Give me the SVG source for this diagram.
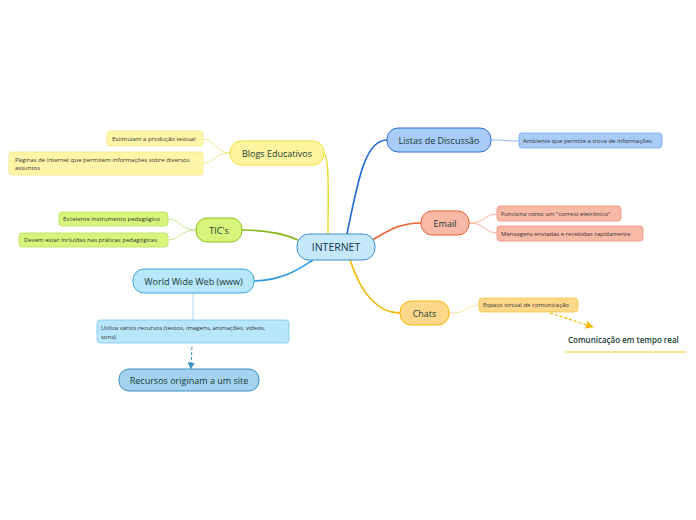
<svg xmlns="http://www.w3.org/2000/svg" width="696" height="520" viewBox="0 0 696 520">
<defs>
<style>
text{font-family:"Open Sans","Noto Sans","DejaVu Sans",sans-serif;fill:#163a33}
.main{font-size:9px;text-anchor:middle}
.root{font-size:10.5px;text-anchor:middle;fill:#10304a}
.sub{font-size:6px;fill:#333}
.conn{fill:none;stroke-width:1.6}
.sc{fill:none;stroke-width:1}
</style>
<marker id="arrY" markerWidth="8" markerHeight="8" refX="4" refY="4" orient="auto" markerUnits="userSpaceOnUse"><path d="M0,0 L8,4 L0,8 Z" fill="#f6b700"/></marker>
<marker id="arrB" markerWidth="7" markerHeight="7" refX="3.5" refY="3.5" orient="auto" markerUnits="userSpaceOnUse"><path d="M0,0 L7,3.5 L0,7 Z" fill="#3a90c0"/></marker>
</defs>
<rect width="696" height="520" fill="#ffffff"/>
<g id="connectors">
<path class="conn" stroke="#1e6ad8" d="M347,234 C358,180 365,140 387,140"/>
<path class="conn" stroke="#e8e040" d="M328,234 C328,200 330,153 323,153"/>
<path class="conn" stroke="#f06030" d="M372,240 C390,230 400,223 421,223"/>
<path class="conn" stroke="#f6b700" d="M350,260 C360,290 375,313 400,313"/>
<path class="conn" stroke="#8ab820" d="M242,230 C270,230 285,234 298,240"/>
<path class="conn" stroke="#2a9ae0" d="M254,281 C285,280 300,268 313,260"/>
<path class="sc" stroke="#8fb8f0" d="M491,140 C505,140 505,141 519,141"/>
<path class="sc" stroke="#f6b09a" d="M469,223 C485,223 485,214 497,214"/>
<path class="sc" stroke="#f6b09a" d="M469,223 C485,223 485,233 497,233"/>
<path class="sc" stroke="#fde3a0" d="M449,313 C470,313 465,305 479,305"/>
<path class="sc" stroke="#f5e88a" d="M230,153 C215,153 215,139 203,139"/>
<path class="sc" stroke="#f5e88a" d="M230,153 C215,153 215,163 203,163"/>
<path class="sc" stroke="#c8e890" d="M196,230 C180,230 180,219 168,219"/>
<path class="sc" stroke="#c8e890" d="M196,230 C180,230 180,240 168,240"/>
<path class="sc" stroke="#a8daf0" d="M193,293 L193,320"/>
<path fill="none" stroke="#3a90c0" stroke-width="1" stroke-dasharray="3,2" d="M192,347 L191,366" marker-end="url(#arrB)"/>
<path fill="none" stroke="#f6b700" stroke-width="1.2" stroke-dasharray="3,2" d="M550,313 L590,326" marker-end="url(#arrY)"/>
</g>
<g id="internet"><rect x="297" y="234" width="78" height="26" rx="12" fill="#c5e8fb" stroke="#3a8fd6" stroke-width="1"/><text class="root" x="336" y="251">INTERNET</text></g>
<g id="listas"><rect x="387" y="128" width="104" height="24" rx="11" fill="#a8cbf7" stroke="#2b6fd6" stroke-width="1"/><text class="main" x="439" y="143.5">Listas de Discussão</text></g>
<g id="ambiente"><rect x="519" y="133" width="143" height="15" rx="3" fill="#a8cbf7" stroke="#7aaaf0" stroke-width="0.8"/><text class="sub" x="523" y="142.5">Ambiente que permite a troca de informações</text></g>
<g id="email"><rect x="421" y="211" width="48" height="24" rx="11" fill="#f8b9a6" stroke="#f06030" stroke-width="1"/><text class="main" x="445" y="226.5">Email</text></g>
<g id="funciona"><rect x="497" y="206" width="124" height="15" rx="3" fill="#f8b9a6" stroke="#f0907a" stroke-width="0.8"/><text class="sub" x="501" y="215.5">Funciona como um "correio eletrônico"</text></g>
<g id="mensagens"><rect x="497" y="226" width="146" height="15" rx="3" fill="#f8b9a6" stroke="#f0907a" stroke-width="0.8"/><text class="sub" x="501" y="235.5">Mensagens enviadas e recebidas rapidamente</text></g>
<g id="chats"><rect x="400" y="301" width="49" height="24" rx="11" fill="#fdd88a" stroke="#f6b700" stroke-width="1"/><text class="main" x="424.5" y="316.5">Chats</text></g>
<g id="espaco"><rect x="479" y="298" width="99" height="14" rx="3" fill="#fdd88a" stroke="#f6c840" stroke-width="0.8"/><text class="sub" x="483" y="307">Espaço virtual de comunicação</text></g>
<g id="tempo-real"><text x="568" y="343" style="font-size:8px;font-weight:600">Comunicação em tempo real</text><line x1="565" y1="352" x2="686" y2="352" stroke="#fbd870" stroke-width="1.5"/></g>
<g id="blogs"><rect x="230" y="141" width="94" height="24" rx="11" fill="#fff5a0" stroke="#f0e040" stroke-width="1"/><text class="main" x="277" y="156.5">Blogs Educativos</text></g>
<g id="estimulam"><rect x="107" y="131" width="96" height="15" rx="3" fill="#fff5a8" stroke="#f5e880" stroke-width="0.8"/><text class="sub" x="112" y="140.5">Estimulam a produção textual</text></g>
<g id="paginas"><rect x="9" y="152" width="194" height="23" rx="3" fill="#fff5a8" stroke="#f5e880" stroke-width="0.8"/><text class="sub" x="15" y="161.5">Páginas de Internet que permitem informações sobre diversos</text><text class="sub" x="15" y="170">assuntos</text></g>
<g id="tics"><rect x="196" y="218" width="46" height="24" rx="11" fill="#d6f57a" stroke="#8ec31a" stroke-width="1"/><text class="main" x="219" y="233.5">TIC's</text></g>
<g id="excelente"><rect x="59" y="212" width="109" height="14" rx="3" fill="#d6f57a" stroke="#b8e060" stroke-width="0.8"/><text class="sub" x="63" y="221">Excelente instrumento pedagógico</text></g>
<g id="devem"><rect x="19" y="233" width="149" height="14" rx="3" fill="#d6f57a" stroke="#b8e060" stroke-width="0.8"/><text class="sub" x="24" y="242">Devem estar incluídas nas práticas pedagógicas</text></g>
<g id="www"><rect x="133" y="269" width="121" height="24" rx="11" fill="#b8e6fb" stroke="#3aa6e0" stroke-width="1"/><text class="main" x="193.5" y="284.5">World Wide Web (www)</text></g>
<g id="utiliza"><rect x="97" y="320" width="192" height="23" rx="3" fill="#b8e6fb" stroke="#80c8f0" stroke-width="0.8"/><text class="sub" x="101" y="329.5">Utiliza vários recursos (textos, imagens, animações, vídeos,</text><text class="sub" x="101" y="338.5">sons)</text></g>
<g id="recursos"><rect x="119" y="369" width="140" height="22" rx="10" fill="#a3d3ef" stroke="#3a90c0" stroke-width="1"/><text class="main" x="189" y="383.5">Recursos originam a um site</text></g>
</svg>
